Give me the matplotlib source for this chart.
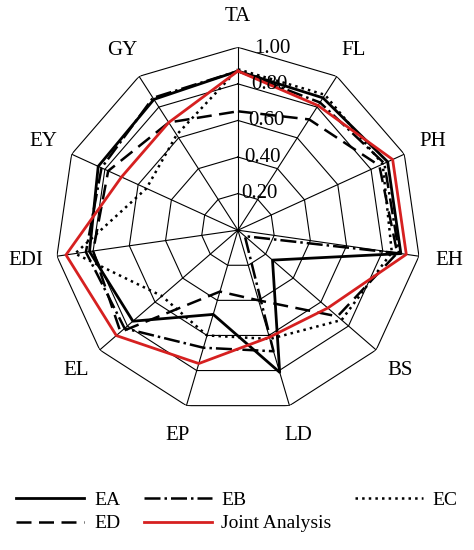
import numpy as np
import matplotlib
matplotlib.use("Agg")
import matplotlib.pyplot as plt
from matplotlib.lines import Line2D

plt.rcParams['font.family'] = ['Liberation Serif']

categories = ["TA", "FL", "PH", "EH", "BS", "LD", "EP", "EL", "EDI", "EY", "GY"]
EA = [0.87, 0.86, 0.90, 0.90, 0.25, 0.81, 0.48, 0.76, 0.82, 0.84, 0.85]
EB = [0.87, 0.83, 0.88, 0.89, 0.05, 0.69, 0.67, 0.82, 0.84, 0.82, 0.86]
EC = [0.88, 0.88, 0.87, 0.85, 0.75, 0.62, 0.60, 0.55, 0.90, 0.55, 0.62]
ED = [0.65, 0.72, 0.85, 0.88, 0.72, 0.40, 0.35, 0.85, 0.80, 0.78, 0.70]
JA = [0.87, 0.81, 0.93, 0.93, 0.65, 0.61, 0.76, 0.88, 0.95, 0.70, 0.70]
rings = [0.2, 0.4, 0.6, 0.8, 1.0]

n = len(categories)
ang = np.linspace(0, 2*np.pi, n, endpoint=False)
angc = np.append(ang, ang[0])

fig = plt.figure(figsize=(4.74, 5.5), dpi=100)
ax = fig.add_axes([0.116, 0.249, 0.772, 0.665], projection='polar')
ax.set_theta_zero_location('N')
ax.set_theta_direction(-1)
ax.set_ylim(0, 1.0)
ax.grid(False)
ax.spines['polar'].set_visible(False)
ax.set_xticks([]); ax.set_yticks([])

for r in rings:
    ax.plot(angc, [r]*(n+1), color='black', lw=0.8, zorder=1)
for a in ang:
    ax.plot([a, a], [0, 1.0], color='black', lw=0.8, zorder=1)
for r in rings:
    ax.text(0.09, r, f"{r:.2f}", fontsize=15, ha='left', va='center', zorder=5)
for a, c in zip(ang, categories):
    ax.text(a, 1.17, c, fontsize=15, ha='center', va='center')

def close(v):
    return list(v) + [v[0]]

ax.plot(angc, close(EA), color='black', lw=2.0, ls='-', zorder=3)
ax.plot(angc, close(EB), color='black', lw=1.8, ls='-.', zorder=3)
ax.plot(angc, close(EC), color='black', lw=1.8, ls=':', zorder=3)
ax.plot(angc, close(ED), color='black', lw=1.8, ls=(0, (6, 3)), zorder=3)
ax.plot(angc, close(JA), color='#d62020', lw=2.0, ls='-', zorder=4)

hEA = Line2D([], [], color='black', lw=2, ls='-')
hEB = Line2D([], [], color='black', lw=1.8, ls='-.')
hEC = Line2D([], [], color='black', lw=1.8, ls=':')
hED = Line2D([], [], color='black', lw=1.8, ls=(0, (6, 3)))
hJA = Line2D([], [], color='#d62020', lw=2)
blank = Line2D([], [], color='none')
fig.legend([hEA, hED, hEB, hJA, hEC, blank],
           ["EA", "ED", "EB", "Joint Analysis", "EC", ""],
           loc='lower center', ncol=3, frameon=False,
           fontsize=14, bbox_to_anchor=(0.5, 0.0), handlelength=3.5,
           columnspacing=1.2, handletextpad=0.5, labelspacing=0.3)
fig.savefig("out.png", dpi=100)
